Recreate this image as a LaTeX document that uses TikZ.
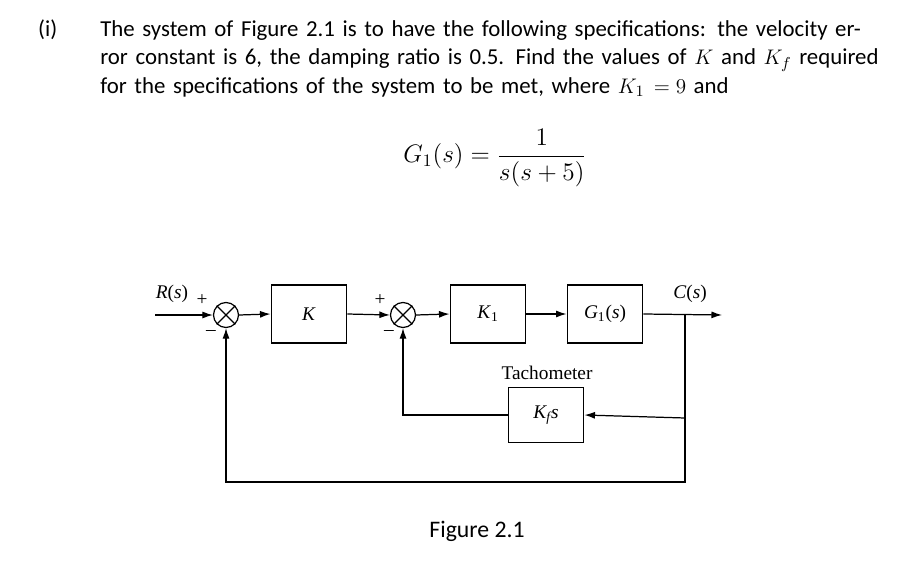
\documentclass[tikz,border=0pt]{standalone}
\usepackage{amsmath}
\usepackage{fontspec}
\setmainfont{Carlito}
\newfontfamily\tnr{Liberation Serif}
\usetikzlibrary{arrows.meta}
\begin{document}
\begin{tikzpicture}[x=0.02cm,y=-0.02cm,
  blk/.style={draw,line width=1.1pt,minimum width=1.5cm,minimum height=1.16cm,font=\tnr\fontsize{11}{13}\selectfont,inner sep=0},
  sum/.style={draw,circle,minimum size=0.5cm,inner sep=0,line width=0.7pt},
  sig/.style={-{Latex[length=6pt,width=4pt]},line width=0.7pt},
  ln/.style={line width=0.7pt},
  lab/.style={font=\tnr\fontsize{11}{13}\selectfont}]
\useasboundingbox (0,0) rectangle (909,571);
\node[anchor=west,font=\fontsize{13}{16}\selectfont] (num) at (32,30) {(i)};
\node[anchor=north west,text width=15.6cm,align=left,inner sep=0,font=\fontsize{13}{16.2}\selectfont] (txt) at (100,20)
{The system of Figure 2.1 is to have the following specifications: the velocity error constant is 6, the damping ratio is 0.5. Find the values of $K$ and $K_f$ required for the specifications of the system to be met, where $K_1\,=9$ and};
\node[font=\fontsize{14}{16}\selectfont] (eq) at (495,158) {$G_1(s) = \dfrac{1}{s(s+5)}$};

\node[sum] (s1) at (226,315) {};
\draw[ln] (s1.north west)--(s1.south east) (s1.north east)--(s1.south west);
\node[blk] (k) at (309,314) {\textit{K}};
\node[sum] (s2) at (403,315) {};
\draw[ln] (s2.north west)--(s2.south east) (s2.north east)--(s2.south west);
\node[blk] (k1) at (488,314) {\textit{K}\textsubscript{1}};
\node[blk] (g) at (605,314) {\textit{G}\textsubscript{1}(\textit{s})};
\node[blk,minimum height=1.1cm] (kf) at (546,415) {\textit{K\textsubscript{f}s}};
\node[lab] (tach) at (547,373) {Tachometer};
\node[lab,anchor=south] (r) at (172,309) {\textit{R}(\textit{s})};
\node[lab,anchor=south] (c) at (690,309) {\textit{C}(\textit{s})};
\node[lab] (p1) at (202,300) {+};
\node[lab] (m1) at (211,333) {\textendash};
\node[lab] (p2) at (380,300) {+};
\node[lab] (m2) at (389,333) {\textendash};
\node[font=\fontsize{13.5}{16}\selectfont] (fig) at (477,531) {Figure 2.1};

\coordinate (in) at (155,315);
\coordinate (out) at (722,315);
\coordinate (br) at (685,315);
\coordinate (fb1) at (685,418);
\coordinate (fb2) at (403,415);
\coordinate (lo1) at (685,482);
\coordinate (lo2) at (226,482);
\draw[sig] (in) -- (s1.west);
\draw[sig] (s1.east) -- (k.west);
\draw[sig] (k.east) -- (s2.west);
\draw[sig] (s2.east) -- (k1.west);
\draw[sig] (k1.east) -- (g.west);
\draw[sig] (g.east) -- (out);
\draw[sig] (br) -- (fb1) -- (kf.east);
\draw[sig] (kf.west) -- (fb2) -- (s2.south);
\draw[sig] (br) -- (lo1) -- (lo2) -- (s1.south);
\end{tikzpicture}
\end{document}
